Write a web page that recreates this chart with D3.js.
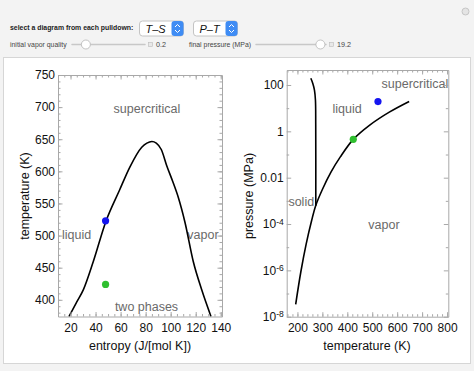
<!DOCTYPE html>
<html>
<head>
<meta charset="utf-8">
<script src="https://cdn.jsdelivr.net/npm/d3@7"></script>
<style>
  body { margin: 0; background: #f3f3f3; }
  svg { display: block; font-family: "Liberation Sans", Arial, sans-serif; }
</style>
</head>
<body>
<script>
// T-S diagram: saturation dome (entropy J/[mol K], temperature K)
const domeS = [18.8, 24.5, 30.2, 38.2, 48.3, 59.2, 67.5, 76.9, 81, 85, 88.5, 92.5, 97, 101.5, 106, 111.5, 118, 124.8, 132.2];
const domeT = [374, 395, 415.5, 459.6, 522.4, 571, 607, 637.5, 644, 646.5, 644, 634, 608, 585, 560, 520, 460, 415.5, 374];

// P-T diagram: melting line and sublimation/vaporization line (K, MPa)
const meltT = [253.7, 261.7, 268.3, 272.3, 273.4, 273.7];
const meltP = [195, 117, 60, 22, 2, 6.2e-4];
const satT = [193, 213.6, 235, 257, 273.2, 300, 335, 372, 424, 490, 570, 648];
const satP = [3.4e-8, 8.5e-7, 1.35e-5, 1.41e-4, 6.2e-4, 3.1e-3, 0.0178, 0.079, 0.45, 1.86, 6.9, 19.5];

// state points
const initialQuality = 0.2;
const finalPressure = 19.2;
const initialState = { s: 48, T: 424, P: 0.45 };
const finalState = { s: 48, T: 523, P: finalPressure };

// ticks
const tsXTicks = [20, 40, 60, 80, 100, 120, 140];
const tsYTicks = [400, 450, 500, 550, 600, 650, 700, 750];
const ptXTicks = [200, 300, 400, 500, 600, 700, 800];
const ptYTicks = [1e-8, 1e-6, 1e-4, 1e-2, 1, 100];
const ptYLabels = [["10", "-8"], ["10", "-6"], ["10", "-4"], ["0.01"], ["1"], ["100"]];

const w = 474, h = 371;
const svg = d3.select("body").append("svg").attr("width", w).attr("height", h);

// background panel
svg.append("rect").attr("x", 0).attr("y", 0).attr("width", w).attr("height", h).attr("fill", "#f3f3f3");
svg.append("rect").attr("x", 3.5).attr("y", 57.5).attr("width", 467).attr("height", 306)
   .attr("fill", "white").attr("stroke", "#d6d6d6");

// ---- controls ----
svg.append("circle").attr("cx", 465.5).attr("cy", 11.5).attr("r", 3.5)
   .attr("fill", "#e4e4e4").attr("stroke", "#bdbdbd").attr("stroke-width", 0.8);
svg.append("text").attr("x", 10).attr("y", 30).attr("font-size", 6.9).attr("font-weight", "bold")
   .attr("fill", "#222").text("select a diagram from each pulldown:");

function popup(x, label) {
  const g = svg.append("g");
  g.append("rect").attr("x", x).attr("y", 21).attr("width", 44).attr("height", 15).attr("rx", 3)
   .attr("fill", "white").attr("stroke", "#c4c4c4");
  g.append("rect").attr("x", x + 32).attr("y", 21).attr("width", 12).attr("height", 15).attr("rx", 3)
   .attr("fill", "#3f8cf4");
  g.append("path").attr("d", `M${x + 35.5},27 l2.5,-2.5 l2.5,2.5 M${x + 35.5},30 l2.5,2.5 l2.5,-2.5`)
   .attr("fill", "none").attr("stroke", "white").attr("stroke-width", 1);
  g.append("text").attr("x", x + 6).attr("y", 32.5).attr("font-size", 11).attr("font-style", "italic")
   .attr("fill", "#111").text(label);
}
popup(139.5, "T\u2013S");
popup(193.5, "P\u2013T");

function slider(x0, x1, frac, label, lx, value) {
  svg.append("text").attr("x", lx).attr("y", 47).attr("font-size", 6.9).attr("fill", "#444").text(label);
  svg.append("line").attr("x1", x0).attr("x2", x1).attr("y1", 44.5).attr("y2", 44.5)
     .attr("stroke", "#c8c8c8").attr("stroke-width", 1.5).attr("stroke-linecap", "round");
  svg.append("circle").attr("cx", x0 + frac * (x1 - x0)).attr("cy", 44.5).attr("r", 4.5)
     .attr("fill", "white").attr("stroke", "#b5b5b5").attr("stroke-width", 0.8);
  svg.append("rect").attr("x", x1 + 3.5).attr("y", 42.5).attr("width", 4).attr("height", 4)
     .attr("fill", "#e8e8e8").attr("stroke", "#bbb").attr("stroke-width", 0.6);
  svg.append("text").attr("x", x1 + 11).attr("y", 47).attr("font-size", 7.2).attr("fill", "#444").text(value);
}
slider(72, 145, 0.19, "initial vapor quality", 10, String(initialQuality));
slider(256, 326, 0.92, "final pressure (MPa)", 189, String(finalPressure));

// ---- shared helpers ----
const frameColor = "#a8a8a8";

function frameAxes(g, x, y, xMajor, xMinor, yMajor, yMinor, yFormat) {
  const [x0, x1] = x.range();
  const [y0, y1] = y.range();
  const specs = [
    [d3.axisBottom(x), y0, 0, xMajor, xMinor, true],
    [d3.axisTop(x), y1, 0, xMajor, xMinor, false],
    [d3.axisLeft(y), x0, 1, yMajor, yMinor, true],
    [d3.axisRight(y), x1, 1, yMajor, yMinor, false]
  ];
  specs.forEach(([ax, pos, vert, major, minor, labels]) => {
    const tr = vert ? `translate(${pos},0)` : `translate(0,${pos})`;
    g.append("g").attr("transform", tr)
      .call(ax.tickValues(minor).tickSizeInner(-2.5).tickSizeOuter(0).tickFormat(""))
      .call(s => s.selectAll("line").attr("stroke", frameColor))
      .call(s => s.select(".domain").remove());
    const ax2 = ax.tickValues(major).tickSizeInner(-4.5).tickSizeOuter(0).tickPadding(vert ? 3 : 7);
    const a = g.append("g").attr("transform", tr)
      .call(ax2.tickFormat(labels ? (vert && yFormat ? () => "" : d3.format("d")) : ""));
    a.selectAll("line").attr("stroke", frameColor);
    a.select(".domain").attr("stroke", frameColor);
    a.selectAll("text").attr("font-size", 12).attr("fill", "#111").attr("font-family", null);
    if (labels && vert && yFormat) {
      a.selectAll(".tick text").each(function(d, i) {
        const t = d3.select(this);
        const parts = yFormat[i];
        t.append("tspan").text(parts[0]);
        if (parts[1]) t.append("tspan").attr("dy", "-0.45em").attr("font-size", 8.5).text(parts[1]);
      });
    }
  });
}

function regionLabel(g, px, py, text) {
  g.append("text").attr("x", px).attr("y", py).attr("dy", "0.35em").attr("text-anchor", "middle")
   .attr("font-size", 12.5).attr("fill", "#6a6a6a").text(text);
}

// ---- T-S diagram ----
const tsX = d3.scaleLinear().domain([10, 141]).range([58, 222]);
const tsY = d3.scaleLinear().domain([374, 750]).range([316.5, 75]);
const gTS = svg.append("g");

regionLabel(gTS, tsX(81), tsY(698), "supercritical");
regionLabel(gTS, tsX(24.9), tsY(501), "liquid");
regionLabel(gTS, tsX(125.8), tsY(501), "vapor");
regionLabel(gTS, tsX(80.7), tsY(389), "two phases");

gTS.append("path")
  .datum(d3.zip(domeS, domeT))
  .attr("fill", "none").attr("stroke", "black").attr("stroke-width", 1.6)
  .attr("d", d3.line().x(d => tsX(d[0])).y(d => tsY(d[1])).curve(d3.curveMonotoneX));

frameAxes(gTS, tsX, tsY, tsXTicks, d3.range(10, 141, 5), tsYTicks, d3.range(380, 751, 10), null);

gTS.append("circle").attr("cx", tsX(finalState.s)).attr("cy", tsY(finalState.T)).attr("r", 3.6).attr("fill", "#1414f0");
gTS.append("circle").attr("cx", tsX(initialState.s)).attr("cy", tsY(initialState.T)).attr("r", 3.6).attr("fill", "#2fbf2f");

gTS.append("text").attr("x", 140).attr("y", 350).attr("text-anchor", "middle").attr("font-size", 12.5)
   .attr("fill", "#111").text("entropy (J/[mol K])");
gTS.append("text").attr("transform", "translate(29,196) rotate(-90)").attr("text-anchor", "middle")
   .attr("font-size", 12.5).attr("fill", "#111").text("temperature (K)");

// ---- P-T diagram ----
const ptX = d3.scaleLinear().domain([157, 805]).range([286.7, 448.3]);
const ptY = d3.scaleLog().domain([1e-8, 444]).range([316.7, 70]);
const gPT = svg.append("g");

regionLabel(gPT, ptX(671), ptY(Math.pow(10, 2.04)), "supercritical");
regionLabel(gPT, ptX(399), ptY(Math.pow(10, 0.96)), "liquid");
regionLabel(gPT, ptX(215.5), ptY(Math.pow(10, -3.04)), "solid");
regionLabel(gPT, ptX(547), ptY(Math.pow(10, -4.04)), "vapor");

const ptLine = d3.line().x(d => ptX(d[0])).y(d => ptY(d[1])).curve(d3.curveCatmullRom);
gPT.append("path").datum(d3.zip(meltT, meltP))
  .attr("fill", "none").attr("stroke", "black").attr("stroke-width", 1.6).attr("d", ptLine);
gPT.append("path").datum(d3.zip(satT, satP))
  .attr("fill", "none").attr("stroke", "black").attr("stroke-width", 1.6).attr("d", ptLine);

const ptMinorY = [1e-7, 1e-5, 1e-3, 0.1, 10];
frameAxes(gPT, ptX, ptY, ptXTicks, d3.range(160, 805, 20), ptYTicks, ptMinorY, ptYLabels);

gPT.append("circle").attr("cx", ptX(finalState.T)).attr("cy", ptY(finalState.P)).attr("r", 3.6).attr("fill", "#1414f0");
gPT.append("circle").attr("cx", ptX(initialState.T)).attr("cy", ptY(initialState.P)).attr("r", 3.6).attr("fill", "#2fbf2f");

gPT.append("text").attr("x", 367).attr("y", 350).attr("text-anchor", "middle").attr("font-size", 12.5)
   .attr("fill", "#111").text("temperature (K)");
gPT.append("text").attr("transform", "translate(253,196) rotate(-90)").attr("text-anchor", "middle")
   .attr("font-size", 12.5).attr("fill", "#111").text("pressure (MPa)");
</script>
</body>
</html>
